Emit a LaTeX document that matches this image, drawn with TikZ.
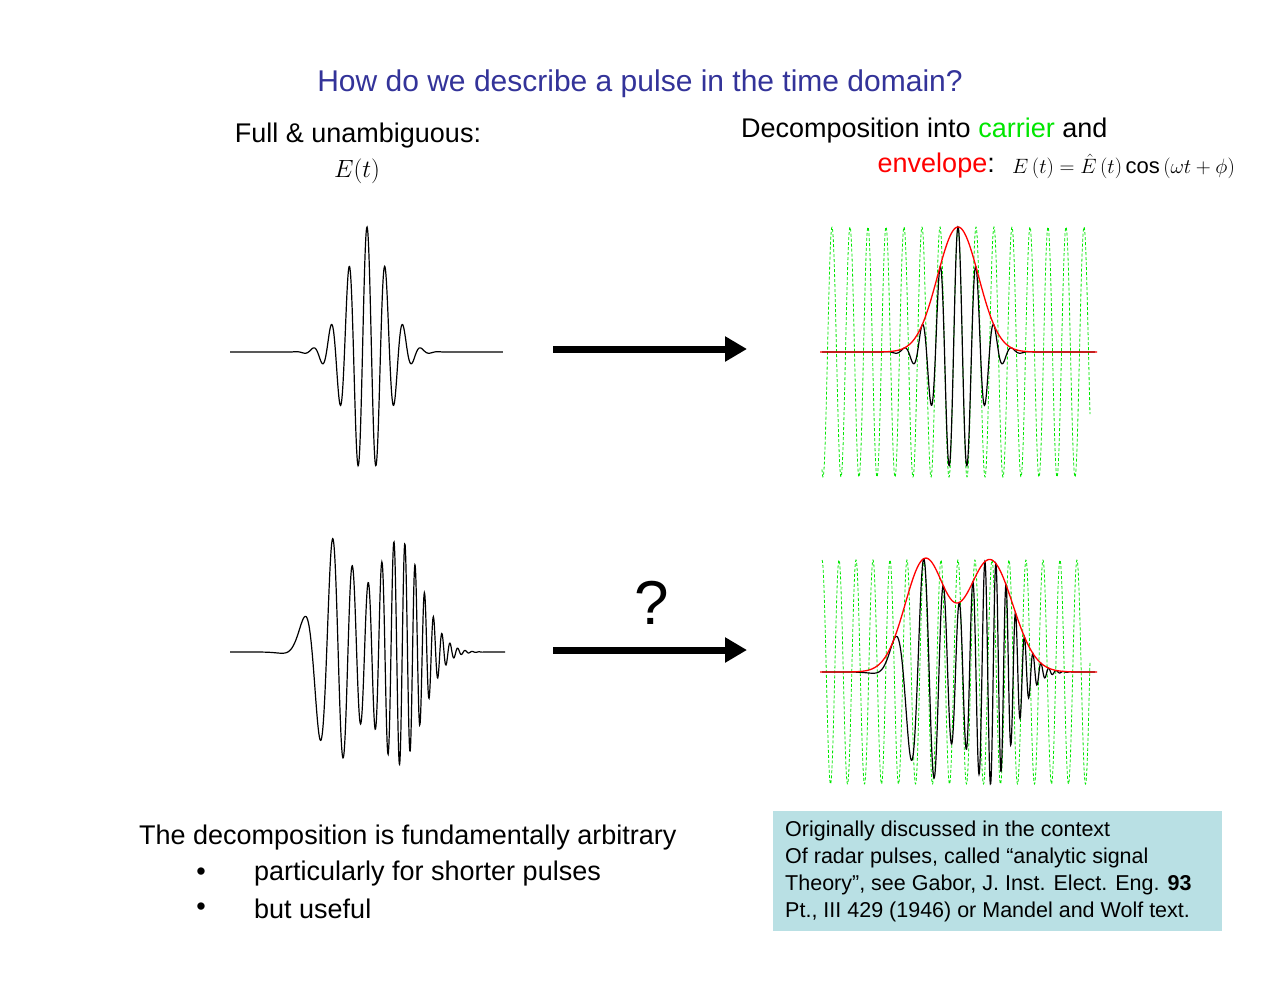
\documentclass[tikz,border=0pt]{standalone}
\usepackage{fontspec}
\setmainfont{Liberation Sans}
\usepackage{amsmath}
\usetikzlibrary{arrows.meta}
\definecolor{titleblue}{RGB}{51,51,153}
\definecolor{boxblue}{RGB}{185,224,228}
\definecolor{carrier}{RGB}{0,230,0}
\newcommand{\fs}[1]{\fontsize{#1}{#1}\selectfont}
\begin{document}
\begin{tikzpicture}[x=1pt, y=-1pt,
  label/.style={inner sep=0pt, font=\fs{27}},
  boxline/.style={anchor=west, inner sep=0pt, font=\fs{21.5}},
  bigarrow/.style={line width=7pt, -{Triangle[length=22pt,width=24pt]}},
  wave/.style={black, line width=1.2pt, samples=700, smooth},
  env/.style={red, line width=1.3pt, samples=300, smooth},
  carr/.style={carrier, line width=0.8pt, samples=900, dash pattern=on 3pt off 2pt}]
  \useasboundingbox (0,0) rectangle (1280,989);

  % headings
  \node[inner sep=0pt, text=titleblue, font=\fs{30}] (title) at (640,84) {How do we describe a pulse in the time domain?};
  \node[label] (full) at (358,136) {Full \& unambiguous:};
  \node[inner sep=0pt, font=\fs{26}] (Et) at (357,171) {$E(t)$};
  \node[label, anchor=west] (decomp) at (741,131) {Decomposition into \textcolor{carrier}{carrier} and};
  \node[label, anchor=east, text=red] (envel) at (995,166) {envelope\textcolor{black}{:}};
  \node[inner sep=0pt, anchor=west, font=\fs{22}] (eqn) at (1012,166)
    {$E\left(t\right)=\hat{E}\left(t\right)\cos\left(\omega t+\phi\right)$};

  % top row: gaussian pulse
  \draw[wave, domain=230:503] plot (\x, {352-125*exp(-((\x-367)/29)^2)*cos(20*(\x-367))});
  \draw[carr, domain=822:1090] plot (\x, {352-125*cos(20*(\x-958))});
  \draw[wave, domain=822:1095] plot (\x, {352-125*exp(-((\x-958)/29)^2)*cos(20*(\x-958))});
  \draw[env, domain=820:1097] plot (\x, {352-125*exp(-((\x-958)/29)^2)});

  % bottom row: chirped pulse
  \draw[wave, domain=230:505] plot (\x, {652-112*(exp(-((\x-334)/28)^2)+exp(-((\x-399)/32)^2))*cos(24.48*(\x-367)+12.74*((\x-367)/10)^2-30)});
  \draw[carr, domain=822:1090] plot (\x, {672-112*cos(21.18*(\x-958))});
  \draw[wave, domain=822:1095] plot (\x, {672-112*(exp(-((\x-925)/28)^2)+exp(-((\x-990)/32)^2))*cos(24.48*(\x-958)+12.74*((\x-958)/10)^2-30)});
  \draw[env, domain=820:1097] plot (\x, {672-112*(exp(-((\x-925)/28)^2)+exp(-((\x-990)/32)^2))});

  % arrows
  \coordinate (a1) at (553,349);
  \coordinate (b1) at (747,349);
  \coordinate (a2) at (553,650);
  \coordinate (b2) at (747,650);
  \draw[bigarrow] (a1) -- (b1);
  \draw[bigarrow] (a2) -- (b2);
  \node[inner sep=0pt, font=\fs{62}] (q) at (652,603) {?};

  % bottom text
  \node[label, anchor=west] (arb) at (139,838) {The decomposition is fundamentally arbitrary};
  \node[label] (bul1) at (201,874) {•};
  \node[label, anchor=west] (short) at (254,874) {particularly for shorter pulses};
  \node[label] (bul2) at (201,909) {•};
  \node[label, anchor=west] (useful) at (254,909) {but useful};

  % note box
  \fill[boxblue] (773,811) rectangle (1222,931);
  \node[boxline] (n1) at (785,831) {Originally discussed in the context};
  \node[boxline] (n2) at (785,858) {Of radar pulses, called “analytic signal};
  \node[boxline] (n3) at (785,885) {Theory”, see Gabor, J. Inst. Elect. Eng. \textbf{93}};
  \node[boxline] (n4) at (785,912) {Pt., III 429 (1946) or Mandel and Wolf text.};
\end{tikzpicture}
\end{document}
